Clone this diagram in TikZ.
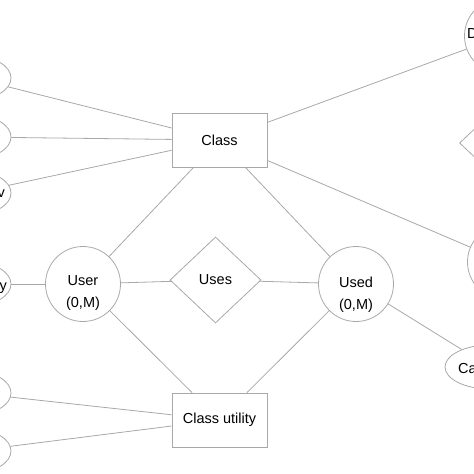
\documentclass[tikz,border=0pt]{standalone}
\usepackage{fontspec}
\setmainfont{Liberation Sans}
\usetikzlibrary{shapes.geometric}
\definecolor{erline}{RGB}{168,168,168}

\begin{document}
\begin{tikzpicture}[
    x = 1pt, y = -1pt,
    every node/.style = {font = \fontsize{14.5}{22}\selectfont},
    entity/.style   = {shape = rectangle, draw = erline, line width = 0.8pt,
                       minimum width = 95pt, minimum height = 54pt, inner sep = 0pt},
    relation/.style = {shape = diamond, draw = erline, line width = 0.8pt,
                       minimum width = 91pt, minimum height = 86pt, inner sep = 0pt},
    role/.style     = {shape = circle, draw = erline, line width = 0.8pt,
                       minimum size = 75pt, inner sep = 0pt},
    attrib/.style   = {shape = ellipse, draw = erline, line width = 0.8pt,
                       minimum width = 76pt, minimum height = 44pt, inner sep = 0pt},
    cut/.style      = {inner sep = 0pt},
  ]
  \useasboundingbox (0, 0) rectangle (474, 474);

  % ------------------------------------------------------------------------
  % Middle
  \node[entity]   at (219.5, 140) (class)   {Class};
  \node[entity]   at (219.5, 420) (utility) {Class utility};
  \node[relation] at (215.5, 280) (uses)    {Uses};

  \node[role] at ( 83, 284) (user) {};
  \node[align = center] at ( 83, 293) (userTxt) {User\\(0,M)};
  \node[role] at (356, 284) (used) {};
  \node[align = center] at (356, 295) (usedTxt) {Used\\(0,M)};

  % ------------------------------------------------------------------------
  % Left border
  \node[attrib] at (-27,  78) (a1) {};
  \node[attrib] at (-27, 137) (a2) {};
  \node[attrib] at (-27, 193) (a3) {};
  \node[attrib] at (-27, 284) (a4) {};
  \node[attrib] at (-27, 393) (a5) {};
  \node[attrib] at (-27, 451) (a6) {};
  \node[cut, anchor = base east] at (5, 197) (a3Txt) {v};
  \node[cut, anchor = base east] at (7, 290) (a4Txt) {y};

  % ------------------------------------------------------------------------
  % Right border
  \node[role]     at (502,  36) (r1) {};
  \node[relation] at (505, 143) (r2) {};
  \node[role]     at (505, 262) (r3) {};
  \node[attrib, minimum width = 90pt] at (490, 367) (r4) {};
  \node[cut, anchor = base west] at (467,  38) (r1Txt) {D};
  \node[cut, anchor = base west] at (458, 373) (r4Txt) {Ca};

  \draw[erline, line width = 0.8pt]
    (a1) edge (class)
    (a2) edge (class)
    (a3) edge (class)
    (a4) edge (user)
    (a5) edge (utility)
    (a6) edge (utility)
    (class) edge (user)
    (class) edge (used)
    (user) edge (uses)
    (uses) edge (used)
    (user) edge (utility)
    (used) edge (utility)
    (class) edge (r1)
    (class) edge (r3)
    (used) edge (r4)
  ;
\end{tikzpicture}
\end{document}
